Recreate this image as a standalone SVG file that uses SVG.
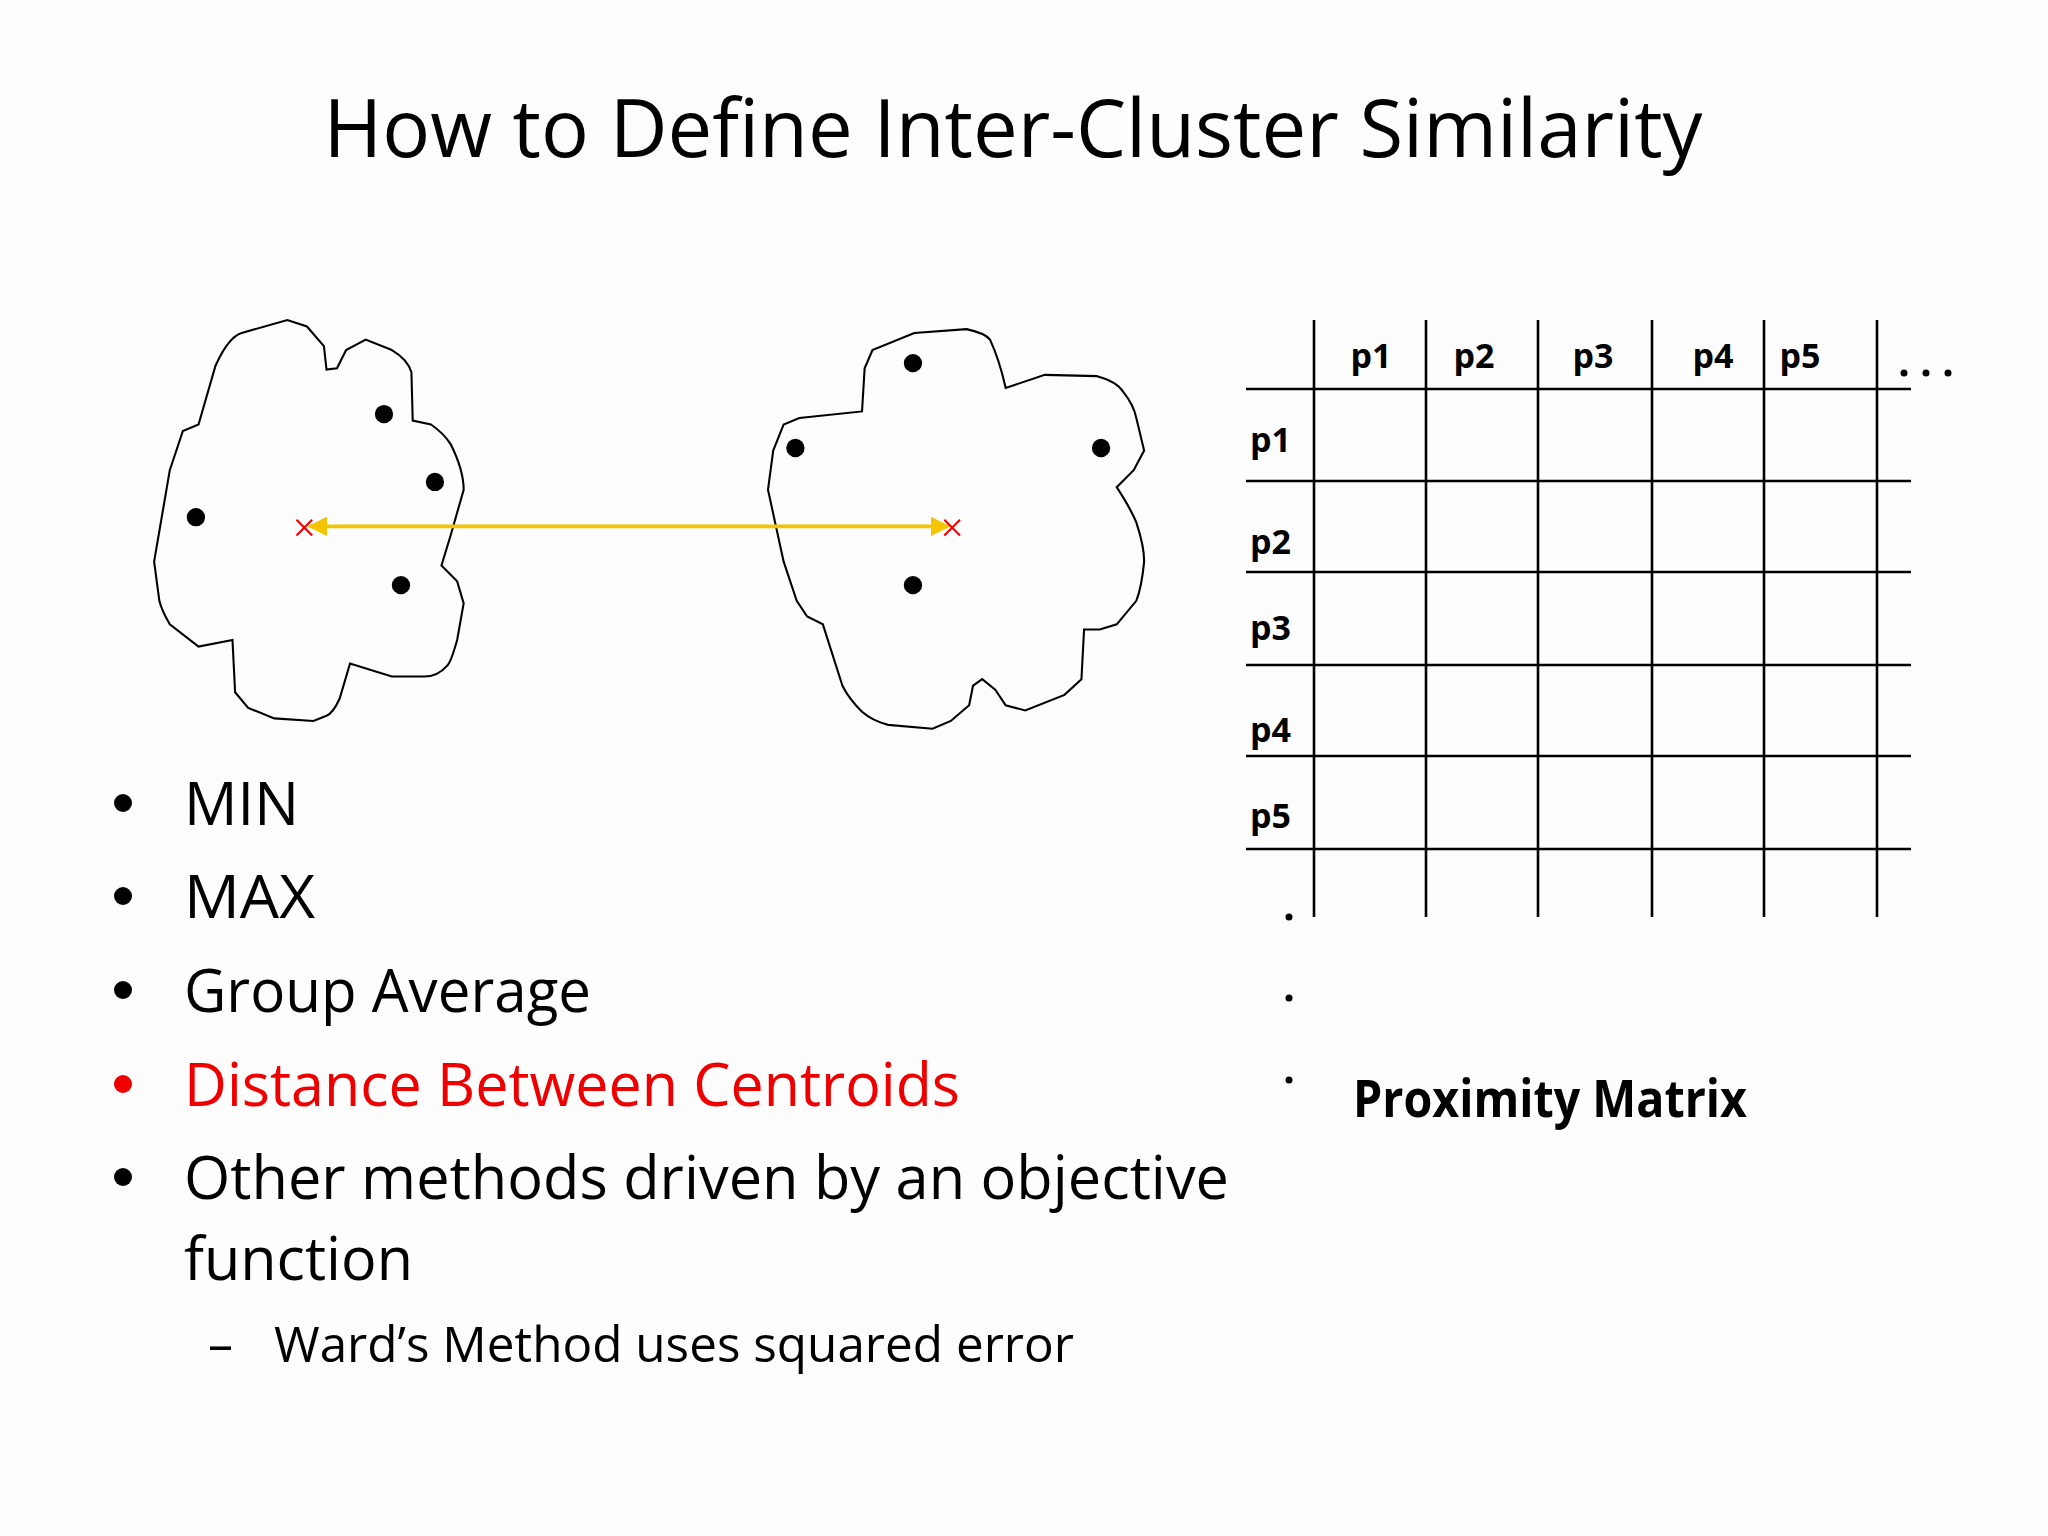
<svg xmlns="http://www.w3.org/2000/svg" width="2048" height="1536" viewBox="0 0 2048 1536">
<style>
.t{font-family:"Open Sans","Liberation Sans",sans-serif;fill:#000}
.b{font-family:"Open Sans","Liberation Sans",sans-serif;font-weight:bold;fill:#000;font-size:34px}
.g{stroke:#000;stroke-width:2.6}
.blob{fill:none;stroke:#000;stroke-width:1.6}
</style>
<defs>
<marker id="ah" viewBox="0 0 10 10" refX="9" refY="5" markerWidth="5" markerHeight="5" orient="auto-start-reverse"><path d="M0,0L10,5L0,10z" fill="#f5c400"/></marker>
</defs>
<rect width="2048" height="1536" fill="#fdfdfd"/>
<text class="t" x="1013" y="157" font-size="80" text-anchor="middle" textLength="1379" lengthAdjust="spacingAndGlyphs">How to Define Inter-Cluster Similarity</text>
<g id="clusters" transform="scale(1.3061)">
<path id="c1" class="blob" d="M118,430 L130,360 L140,330 L152,325 L165,280 Q175,258 185,255 L220,245 L235,250 L248,265 L250,283 L258,282 L265,268 L280,260 L300,268 Q312,275 315,285 L316,322 L330,325 Q340,332 345,340 Q355,360 355,375 L345,410 L338,433 Q348,443 350,445 L355,462 L350,490 Q345,508 342,510 Q335,518 325,518 L300,518 L268,508 L260,535 Q255,546 250,548 L240,552 L210,550 L190,542 L180,530 L178,490 L152,495 L130,478 Q124,468 122,460 Z"/>
<path id="c2" class="blob" d="M588,375 L592,345 L600,325 L612,320 L660,315 L662,282 L668,268 L700,255 L740,252 Q754,255 758,260 Q765,275 770,297 L800,287 L840,288 Q855,292 860,300 Q868,310 870,320 L876,345 L868,360 L855,373 Q866,390 870,400 Q876,418 876,430 Q874,450 870,460 L855,478 L842,482 L830,482 L828,520 L815,532 L785,544 L770,540 L762,528 L752,520 L745,525 L742,540 L728,552 L714,558 L680,555 Q668,552 660,545 Q650,535 645,525 L630,478 L618,472 L610,460 L600,430 Z"/>
<g fill="#000"><circle cx="294" cy="317" r="7"/><circle cx="333" cy="369" r="7"/><circle cx="150" cy="396" r="7"/><circle cx="307" cy="448" r="7"/><circle cx="699" cy="278" r="7"/><circle cx="609" cy="343" r="7"/><circle cx="843" cy="343" r="7"/><circle cx="699" cy="448" r="7"/></g>
<g id="connectors"><line x1="237" y1="403" x2="726" y2="403" stroke="#f5c400" stroke-width="3" marker-start="url(#ah)" marker-end="url(#ah)"/></g>
<g stroke="#e00" stroke-width="1.6"><path d="M227,398L239,410M239,398L227,410"/><path d="M723,398L735,410M735,398L723,410"/></g>
</g>
<g id="bullets" class="t" font-size="61">
<g fill="#000"><circle cx="123" cy="803" r="9"/><circle cx="123" cy="896" r="9"/><circle cx="123" cy="990" r="9"/><circle cx="123" cy="1084" r="9" fill="#e00"/><circle cx="123" cy="1177" r="9"/></g>
<text x="184" y="825" textLength="115" lengthAdjust="spacingAndGlyphs">MIN</text>
<text x="184" y="918" textLength="131" lengthAdjust="spacingAndGlyphs">MAX</text>
<text x="184" y="1012" textLength="407" lengthAdjust="spacingAndGlyphs">Group Average</text>
<text x="184" y="1106" fill="#e00" textLength="776" lengthAdjust="spacingAndGlyphs">Distance Between Centroids</text>
<text x="184" y="1199" textLength="1045" lengthAdjust="spacingAndGlyphs">Other methods driven by an objective</text>
<text x="184" y="1280" textLength="229" lengthAdjust="spacingAndGlyphs">function</text>
<text x="208" y="1362" font-size="50">–</text>
<text x="274" y="1362" font-size="50" textLength="800" lengthAdjust="spacingAndGlyphs">Ward’s Method uses squared error</text>
</g>
<g id="matrix">
<g class="g">
<line x1="1314" y1="320" x2="1314" y2="917"/><line x1="1426" y1="320" x2="1426" y2="917"/><line x1="1538" y1="320" x2="1538" y2="917"/><line x1="1652" y1="320" x2="1652" y2="917"/><line x1="1764" y1="320" x2="1764" y2="917"/><line x1="1877" y1="320" x2="1877" y2="917"/>
<line x1="1246" y1="389" x2="1911" y2="389"/><line x1="1246" y1="481" x2="1911" y2="481"/><line x1="1246" y1="572" x2="1911" y2="572"/><line x1="1246" y1="665" x2="1911" y2="665"/><line x1="1246" y1="756" x2="1911" y2="756"/><line x1="1246" y1="849" x2="1911" y2="849"/>
</g>
<g class="b" text-anchor="middle"><text x="1371" y="368">p1</text><text x="1474" y="368">p2</text><text x="1593" y="368">p3</text><text x="1713" y="368">p4</text><text x="1800" y="368">p5</text></g>
<g class="b"><text x="1250" y="452">p1</text><text x="1250" y="554">p2</text><text x="1250" y="640">p3</text><text x="1250" y="742">p4</text><text x="1250" y="828">p5</text></g>
<g fill="#000"><circle cx="1904" cy="373" r="3.5"/><circle cx="1926" cy="373" r="3.5"/><circle cx="1948" cy="373" r="3.5"/><circle cx="1289" cy="917" r="3.5"/><circle cx="1289" cy="998" r="3.5"/><circle cx="1289" cy="1080" r="3.5"/></g>
<text class="b" x="1353" y="1117" style="font-size:52px" textLength="394" lengthAdjust="spacingAndGlyphs">Proximity Matrix</text>
</g>
</svg>
